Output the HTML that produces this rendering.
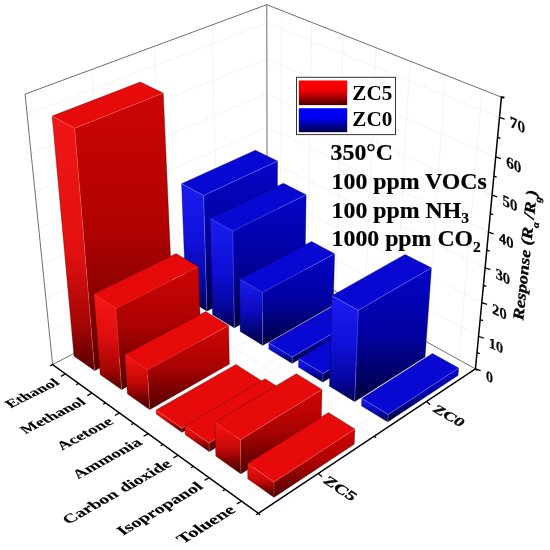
<!DOCTYPE html>
<html><head><meta charset="utf-8"><title>Response chart</title>
<style>
html,body{margin:0;padding:0;background:#fff;}
body{width:550px;height:550px;overflow:hidden;}
svg{display:block;}
text{font-family:"Liberation Serif","DejaVu Serif",serif;font-weight:bold;fill:#000;}
.lb{stroke:#000;stroke-width:0.3px;}
.lc{stroke:#000;stroke-width:0.12px;}
.it{font-style:italic;}
</style></head><body>
<svg width="550" height="550" viewBox="0 0 550 550">
<defs>
<linearGradient id="rn" x1="0" y1="0" x2="0" y2="1"><stop offset="0" stop-color="#fa1212"/><stop offset="0.5" stop-color="#c60808"/><stop offset="1" stop-color="#3c0000"/></linearGradient>
<linearGradient id="rw" x1="0" y1="0" x2="0" y2="1"><stop offset="0" stop-color="#d00404"/><stop offset="0.5" stop-color="#a80202"/><stop offset="1" stop-color="#500000"/></linearGradient>
<linearGradient id="bn" x1="0" y1="0" x2="0" y2="1"><stop offset="0" stop-color="#1c1cf0"/><stop offset="0.5" stop-color="#0a0abc"/><stop offset="1" stop-color="#00003c"/></linearGradient>
<linearGradient id="bw" x1="0" y1="0" x2="0" y2="1"><stop offset="0" stop-color="#0404c8"/><stop offset="0.5" stop-color="#0202a0"/><stop offset="1" stop-color="#000040"/></linearGradient>
<linearGradient id="rnt" x1="0" y1="0" x2="0" y2="1"><stop offset="0" stop-color="#f21616"/><stop offset="0.55" stop-color="#e01010"/><stop offset="0.82" stop-color="#a40505"/><stop offset="1" stop-color="#560000"/></linearGradient>
<linearGradient id="rwt" x1="0" y1="0" x2="0" y2="1"><stop offset="0" stop-color="#cc0404"/><stop offset="0.5" stop-color="#b00202"/><stop offset="1" stop-color="#5e0000"/></linearGradient>
<linearGradient id="rnm" x1="0" y1="0" x2="0" y2="1"><stop offset="0" stop-color="#f81616"/><stop offset="0.45" stop-color="#de0e0e"/><stop offset="0.8" stop-color="#a40404"/><stop offset="1" stop-color="#4e0000"/></linearGradient>
<linearGradient id="bnm" x1="0" y1="0" x2="0" y2="1"><stop offset="0" stop-color="#1c1cf0"/><stop offset="0.45" stop-color="#1010da"/><stop offset="0.8" stop-color="#0606a0"/><stop offset="1" stop-color="#00004c"/></linearGradient>
<linearGradient id="lr" x1="0" y1="0" x2="0" y2="1"><stop offset="0" stop-color="#ff0000"/><stop offset="0.42" stop-color="#ee0000"/><stop offset="1" stop-color="#480000"/></linearGradient>
<linearGradient id="lb" x1="0" y1="0" x2="0" y2="1"><stop offset="0" stop-color="#0000ff"/><stop offset="0.42" stop-color="#0000ee"/><stop offset="1" stop-color="#000044"/></linearGradient>
</defs>
<rect width="550" height="550" fill="#fff"/>

<g fill="none" stroke="#f3f3f3" stroke-width="1">
<polyline points="49.29,332.03 267.15,223.4 478.57,336.24"/>
<polyline points="45.88,298.52 267.1,192.28 481.78,302.59"/>
<polyline points="42.36,263.97 267.05,160.29 485.1,267.87"/>
<polyline points="38.74,228.33 267.0,127.41 488.52,232.05"/>
<polyline points="34.99,191.53 266.94,93.59 492.06,195.06"/>
<polyline points="31.13,153.53 266.89,58.8 495.71,156.86"/>
<polyline points="27.13,114.26 266.83,23.0 499.48,117.37"/>
<line x1="111.17" y1="334.28" x2="91.73" y2="69.47"/>
<line x1="166.26" y1="305.83" x2="153.95" y2="46.45"/>
<line x1="218.19" y1="279.02" x2="212.19" y2="24.91"/>
<line x1="280.44" y1="261.03" x2="281.51" y2="10.5"/>
<line x1="307.6" y1="276.05" x2="311.77" y2="22.42"/>
<line x1="335.71" y1="291.6" x2="343.22" y2="34.8"/>
<line x1="364.82" y1="307.7" x2="375.92" y2="47.69"/>
<line x1="394.99" y1="324.39" x2="409.95" y2="61.09"/>
<line x1="426.28" y1="341.69" x2="445.4" y2="75.06"/>
<line x1="458.75" y1="359.65" x2="482.35" y2="89.61"/>
<line x1="111.17" y1="334.28" x2="318.34" y2="473.44"/>
<line x1="166.26" y1="305.83" x2="374.26" y2="436.23"/>
<line x1="218.19" y1="279.02" x2="426.51" y2="401.45"/>
<line x1="65.47" y1="373.84" x2="280.44" y2="261.03"/>
<line x1="91.97" y1="393.01" x2="307.6" y2="276.05"/>
<line x1="119.52" y1="412.93" x2="335.71" y2="291.6"/>
<line x1="148.19" y1="433.67" x2="364.82" y2="307.7"/>
<line x1="178.04" y1="455.26" x2="394.99" y2="324.39"/>
<line x1="209.15" y1="477.76" x2="426.28" y2="341.69"/>
<line x1="241.61" y1="501.23" x2="458.75" y2="359.65"/>
</g>
<g fill="none" stroke="#555" stroke-width="0.85">
<polyline points="52.59,364.53 25.08,94.13 266.8,4.7 501.42,97.12"/>
<polyline points="52.59,364.53 267.2,253.71 475.45,368.89"/>
<line x1="267.2" y1="253.71" x2="266.8" y2="4.7"/>
</g>
<polygon points="181.58,183.63 203.57,195.45 206.93,311.16 185.98,298.3" fill="url(#bnm)"/>
<polygon points="203.57,195.45 277.51,161.08 277.19,273.83 206.93,311.16" fill="url(#bw)"/>
<polygon points="181.58,183.63 255.39,150.23 277.51,161.08 203.57,195.45" fill="#0808d2"/>
<polyline points="185.98,298.3 181.58,183.63 255.39,150.23 277.51,161.08 277.19,273.83" fill="none" stroke="#000030" stroke-width="0.6" stroke-opacity="0.55" stroke-linejoin="round"/>
<polyline points="185.98,298.3 206.93,311.16 277.19,273.83" fill="none" stroke="#000030" stroke-width="0.5" stroke-opacity="0.35"/>
<polyline points="181.58,183.63 203.57,195.45 277.51,161.08" fill="none" stroke="#7f90ff" stroke-width="0.6" stroke-opacity="0.65" stroke-linejoin="round"/>
<line x1="203.57" y1="195.45" x2="206.93" y2="311.16" stroke="#7f90ff" stroke-width="0.6" stroke-opacity="0.65"/>
<polygon points="52.09,116.07 74.66,128.24 94.65,370.82 74.04,356.27" fill="url(#rnt)"/>
<polygon points="74.66,128.24 163.23,93.02 173.73,328.8 94.65,370.82" fill="url(#rwt)"/>
<polygon points="52.09,116.07 140.3,81.96 163.23,93.02 74.66,128.24" fill="#e60a0a"/>
<polyline points="74.04,356.27 52.09,116.07 140.3,81.96 163.23,93.02 173.73,328.8" fill="none" stroke="#300000" stroke-width="0.6" stroke-opacity="0.55" stroke-linejoin="round"/>
<polyline points="74.04,356.27 94.65,370.82 173.73,328.8" fill="none" stroke="#300000" stroke-width="0.5" stroke-opacity="0.35"/>
<polyline points="52.09,116.07 74.66,128.24 163.23,93.02" fill="none" stroke="#ff8a7a" stroke-width="0.6" stroke-opacity="0.5" stroke-linejoin="round"/>
<line x1="74.66" y1="128.24" x2="94.65" y2="370.82" stroke="#ff8a7a" stroke-width="0.6" stroke-opacity="0.5"/>
<polygon points="210.05,218.49 232.7,230.96 234.32,327.96 212.6,314.64" fill="url(#bnm)"/>
<polygon points="232.7,230.96 306.14,194.75 304.69,289.3 234.32,327.96" fill="url(#bw)"/>
<polygon points="210.05,218.49 283.39,183.31 306.14,194.75 232.7,230.96" fill="#0808d2"/>
<polyline points="212.6,314.64 210.05,218.49 283.39,183.31 306.14,194.75 304.69,289.3" fill="none" stroke="#000030" stroke-width="0.6" stroke-opacity="0.55" stroke-linejoin="round"/>
<polyline points="212.6,314.64 234.32,327.96 304.69,289.3" fill="none" stroke="#000030" stroke-width="0.5" stroke-opacity="0.35"/>
<polyline points="210.05,218.49 232.7,230.96 306.14,194.75" fill="none" stroke="#7f90ff" stroke-width="0.6" stroke-opacity="0.65" stroke-linejoin="round"/>
<line x1="232.7" y1="230.96" x2="234.32" y2="327.96" stroke="#7f90ff" stroke-width="0.6" stroke-opacity="0.65"/>
<polygon points="93.77,293.87 115.89,308.28 121.64,389.87 100.23,374.76" fill="url(#rnm)"/>
<polygon points="115.89,308.28 198.45,266.69 201.02,346.25 121.64,389.87" fill="url(#rw)"/>
<polygon points="93.77,293.87 176.06,253.54 198.45,266.69 115.89,308.28" fill="#e60a0a"/>
<polyline points="100.23,374.76 93.77,293.87 176.06,253.54 198.45,266.69 201.02,346.25" fill="none" stroke="#300000" stroke-width="0.6" stroke-opacity="0.55" stroke-linejoin="round"/>
<polyline points="100.23,374.76 121.64,389.87 201.02,346.25" fill="none" stroke="#300000" stroke-width="0.5" stroke-opacity="0.35"/>
<polyline points="93.77,293.87 115.89,308.28 198.45,266.69" fill="none" stroke="#ff8a7a" stroke-width="0.6" stroke-opacity="0.5" stroke-linejoin="round"/>
<line x1="115.89" y1="308.28" x2="121.64" y2="389.87" stroke="#ff8a7a" stroke-width="0.6" stroke-opacity="0.5"/>
<polygon points="239.46,279.08 262.52,292.45 262.72,345.39 240.2,331.57" fill="url(#bn)"/>
<polygon points="262.52,292.45 334.64,253.67 333.18,305.31 262.72,345.39" fill="url(#bw)"/>
<polygon points="239.46,279.08 311.51,241.41 334.64,253.67 262.52,292.45" fill="#0808d2"/>
<polyline points="240.2,331.57 239.46,279.08 311.51,241.41 334.64,253.67 333.18,305.31" fill="none" stroke="#000030" stroke-width="0.6" stroke-opacity="0.55" stroke-linejoin="round"/>
<polyline points="240.2,331.57 262.72,345.39 333.18,305.31" fill="none" stroke="#000030" stroke-width="0.5" stroke-opacity="0.35"/>
<polyline points="239.46,279.08 262.52,292.45 334.64,253.67" fill="none" stroke="#7f90ff" stroke-width="0.6" stroke-opacity="0.65" stroke-linejoin="round"/>
<line x1="262.52" y1="292.45" x2="262.72" y2="345.39" stroke="#7f90ff" stroke-width="0.6" stroke-opacity="0.65"/>
<polygon points="124.76,354.52 147.4,369.9 149.69,409.67 127.44,393.96" fill="url(#rn)"/>
<polygon points="147.4,369.9 228.6,325.55 229.35,364.37 149.69,409.67" fill="url(#rw)"/>
<polygon points="124.76,354.52 205.74,311.51 228.6,325.55 147.4,369.9" fill="#e60a0a"/>
<polyline points="127.44,393.96 124.76,354.52 205.74,311.51 228.6,325.55 229.35,364.37" fill="none" stroke="#300000" stroke-width="0.6" stroke-opacity="0.55" stroke-linejoin="round"/>
<polyline points="127.44,393.96 149.69,409.67 229.35,364.37" fill="none" stroke="#300000" stroke-width="0.5" stroke-opacity="0.35"/>
<polyline points="124.76,354.52 147.4,369.9 228.6,325.55" fill="none" stroke="#ff8a7a" stroke-width="0.6" stroke-opacity="0.5" stroke-linejoin="round"/>
<line x1="147.4" y1="369.9" x2="149.69" y2="409.67" stroke="#ff8a7a" stroke-width="0.6" stroke-opacity="0.5"/>
<polygon points="268.82,342.75 292.26,357.04 292.2,363.47 268.82,349.13" fill="url(#bn)"/>
<polygon points="292.26,357.04 362.95,315.64 362.69,321.91 292.2,363.47" fill="url(#bw)"/>
<polygon points="268.82,342.75 339.48,302.53 362.95,315.64 292.26,357.04" fill="#0808d2"/>
<polyline points="268.82,349.13 268.82,342.75 339.48,302.53 362.95,315.64 362.69,321.91" fill="none" stroke="#000030" stroke-width="0.6" stroke-opacity="0.55" stroke-linejoin="round"/>
<polyline points="268.82,349.13 292.2,363.47 362.69,321.91" fill="none" stroke="#000030" stroke-width="0.5" stroke-opacity="0.35"/>
<polyline points="268.82,342.75 292.26,357.04 362.95,315.64" fill="none" stroke="#7f90ff" stroke-width="0.6" stroke-opacity="0.65" stroke-linejoin="round"/>
<line x1="292.26" y1="357.04" x2="292.2" y2="363.47" stroke="#7f90ff" stroke-width="0.6" stroke-opacity="0.65"/>
<polygon points="156.07,410.06 181.83,428.17 182.01,432.49 156.3,414.34" fill="url(#rn)"/>
<polygon points="181.83,428.17 261.91,380.97 261.93,385.19 182.01,432.49" fill="url(#rw)"/>
<polygon points="156.07,410.06 235.95,364.45 261.91,380.97 181.83,428.17" fill="#e60a0a"/>
<polyline points="156.3,414.34 156.07,410.06 235.95,364.45 261.91,380.97 261.93,385.19" fill="none" stroke="#300000" stroke-width="0.6" stroke-opacity="0.55" stroke-linejoin="round"/>
<polyline points="156.3,414.34 182.01,432.49 261.93,385.19" fill="none" stroke="#300000" stroke-width="0.5" stroke-opacity="0.35"/>
<polyline points="156.07,410.06 181.83,428.17 261.91,380.97" fill="none" stroke="#ff8a7a" stroke-width="0.6" stroke-opacity="0.5" stroke-linejoin="round"/>
<line x1="181.83" y1="428.17" x2="182.01" y2="432.49" stroke="#ff8a7a" stroke-width="0.6" stroke-opacity="0.5"/>
<polygon points="298.64,358.65 323.03,373.48 322.81,382.25 298.53,367.35" fill="url(#bn)"/>
<polygon points="323.03,373.48 393.78,330.55 393.29,339.12 322.81,382.25" fill="url(#bw)"/>
<polygon points="298.64,358.65 369.41,316.98 393.78,330.55 323.03,373.48" fill="#0808d2"/>
<polyline points="298.53,367.35 298.64,358.65 369.41,316.98 393.78,330.55 393.29,339.12" fill="none" stroke="#000030" stroke-width="0.6" stroke-opacity="0.55" stroke-linejoin="round"/>
<polyline points="298.53,367.35 322.81,382.25 393.29,339.12" fill="none" stroke="#000030" stroke-width="0.5" stroke-opacity="0.35"/>
<polyline points="298.64,358.65 323.03,373.48 393.78,330.55" fill="none" stroke="#7f90ff" stroke-width="0.6" stroke-opacity="0.65" stroke-linejoin="round"/>
<line x1="323.03" y1="373.48" x2="322.81" y2="382.25" stroke="#7f90ff" stroke-width="0.6" stroke-opacity="0.65"/>
<polygon points="184.8,426.04 209.01,442.99 209.27,451.73 185.16,434.71" fill="url(#rn)"/>
<polygon points="209.01,442.99 289.43,394.19 289.35,402.73 209.27,451.73" fill="url(#rw)"/>
<polygon points="184.8,426.04 265.07,378.75 289.43,394.19 209.01,442.99" fill="#e60a0a"/>
<polyline points="185.16,434.71 184.8,426.04 265.07,378.75 289.43,394.19 289.35,402.73" fill="none" stroke="#300000" stroke-width="0.6" stroke-opacity="0.55" stroke-linejoin="round"/>
<polyline points="185.16,434.71 209.27,451.73 289.35,402.73" fill="none" stroke="#300000" stroke-width="0.5" stroke-opacity="0.35"/>
<polyline points="184.8,426.04 209.01,442.99 289.43,394.19" fill="none" stroke="#ff8a7a" stroke-width="0.6" stroke-opacity="0.5" stroke-linejoin="round"/>
<line x1="209.01" y1="442.99" x2="209.27" y2="451.73" stroke="#ff8a7a" stroke-width="0.6" stroke-opacity="0.5"/>
<polygon points="331.89,295.65 358.26,310.34 354.63,401.77 329.39,386.29" fill="url(#bnm)"/>
<polygon points="358.26,310.34 431.43,267.85 425.05,356.98 354.63,401.77" fill="url(#bw)"/>
<polygon points="331.89,295.65 405.12,254.47 431.43,267.85 358.26,310.34" fill="#0808d2"/>
<polyline points="329.39,386.29 331.89,295.65 405.12,254.47 431.43,267.85 425.05,356.98" fill="none" stroke="#000030" stroke-width="0.6" stroke-opacity="0.55" stroke-linejoin="round"/>
<polyline points="329.39,386.29 354.63,401.77 425.05,356.98" fill="none" stroke="#000030" stroke-width="0.5" stroke-opacity="0.35"/>
<polyline points="331.89,295.65 358.26,310.34 431.43,267.85" fill="none" stroke="#7f90ff" stroke-width="0.6" stroke-opacity="0.65" stroke-linejoin="round"/>
<line x1="358.26" y1="310.34" x2="354.63" y2="401.77" stroke="#7f90ff" stroke-width="0.6" stroke-opacity="0.65"/>
<polygon points="214.9,422.25 240.43,439.72 240.94,474.09 215.81,456.35" fill="url(#rn)"/>
<polygon points="240.43,439.72 321.96,389.49 321.16,423.06 240.94,474.09" fill="url(#rw)"/>
<polygon points="214.9,422.25 296.32,373.64 321.96,389.49 240.43,439.72" fill="#e60a0a"/>
<polyline points="215.81,456.35 214.9,422.25 296.32,373.64 321.96,389.49 321.16,423.06" fill="none" stroke="#300000" stroke-width="0.6" stroke-opacity="0.55" stroke-linejoin="round"/>
<polyline points="215.81,456.35 240.94,474.09 321.16,423.06" fill="none" stroke="#300000" stroke-width="0.5" stroke-opacity="0.35"/>
<polyline points="214.9,422.25 240.43,439.72 321.96,389.49" fill="none" stroke="#ff8a7a" stroke-width="0.6" stroke-opacity="0.5" stroke-linejoin="round"/>
<line x1="240.43" y1="439.72" x2="240.94" y2="474.09" stroke="#ff8a7a" stroke-width="0.6" stroke-opacity="0.5"/>
<polygon points="361.8,398.4 388.15,414.45 387.72,422.07 361.47,405.97" fill="url(#bn)"/>
<polygon points="388.15,414.45 458.67,368.07 458.02,375.52 387.72,422.07" fill="url(#bw)"/>
<polygon points="361.8,398.4 432.42,353.43 458.67,368.07 388.15,414.45" fill="#0808d2"/>
<polyline points="361.47,405.97 361.8,398.4 432.42,353.43 458.67,368.07 458.02,375.52" fill="none" stroke="#000030" stroke-width="0.6" stroke-opacity="0.55" stroke-linejoin="round"/>
<polyline points="361.47,405.97 387.72,422.07 458.02,375.52" fill="none" stroke="#000030" stroke-width="0.5" stroke-opacity="0.35"/>
<polyline points="361.8,398.4 388.15,414.45 458.67,368.07" fill="none" stroke="#7f90ff" stroke-width="0.6" stroke-opacity="0.65" stroke-linejoin="round"/>
<line x1="388.15" y1="414.45" x2="387.72" y2="422.07" stroke="#7f90ff" stroke-width="0.6" stroke-opacity="0.65"/>
<polygon points="247.58,463.54 273.99,481.93 273.97,497.4 247.76,478.9" fill="url(#rn)"/>
<polygon points="273.99,481.93 354.87,429.1 354.26,444.23 273.97,497.4" fill="url(#rw)"/>
<polygon points="247.58,463.54 328.41,412.43 354.87,429.1 273.99,481.93" fill="#e60a0a"/>
<polyline points="247.76,478.9 247.58,463.54 328.41,412.43 354.87,429.1 354.26,444.23" fill="none" stroke="#300000" stroke-width="0.6" stroke-opacity="0.55" stroke-linejoin="round"/>
<polyline points="247.76,478.9 273.97,497.4 354.26,444.23" fill="none" stroke="#300000" stroke-width="0.5" stroke-opacity="0.35"/>
<polyline points="247.58,463.54 273.99,481.93 354.87,429.1" fill="none" stroke="#ff8a7a" stroke-width="0.6" stroke-opacity="0.5" stroke-linejoin="round"/>
<line x1="273.99" y1="481.93" x2="273.97" y2="497.4" stroke="#ff8a7a" stroke-width="0.6" stroke-opacity="0.5"/>
<g fill="none" stroke="#000" stroke-width="1.5" stroke-linecap="square">
<polyline points="52.59,364.53 258.36,513.35 475.45,368.89 501.42,97.12"/>
</g>
<g fill="none" stroke="#000" stroke-width="1.3">
<line x1="65.47" y1="373.84" x2="60.87" y2="376.44"/>
<line x1="91.97" y1="393.01" x2="87.37" y2="395.61"/>
<line x1="119.52" y1="412.93" x2="114.92" y2="415.53000000000003"/>
<line x1="148.19" y1="433.67" x2="143.59" y2="436.27000000000004"/>
<line x1="178.04" y1="455.26" x2="173.44" y2="457.86"/>
<line x1="209.15" y1="477.76" x2="204.55" y2="480.36"/>
<line x1="241.61" y1="501.23" x2="237.01000000000002" y2="503.83000000000004"/>
<line x1="52.59" y1="364.53" x2="50.190000000000005" y2="365.92999999999995"/>
<line x1="78.59" y1="383.33" x2="76.19" y2="384.72999999999996"/>
<line x1="105.61" y1="402.87" x2="103.21" y2="404.27"/>
<line x1="133.71" y1="423.2" x2="131.31" y2="424.59999999999997"/>
<line x1="162.96" y1="444.35" x2="160.56" y2="445.75"/>
<line x1="193.43" y1="466.39" x2="191.03" y2="467.78999999999996"/>
<line x1="225.21" y1="489.37" x2="222.81" y2="490.77"/>
<line x1="258.36" y1="513.35" x2="255.96" y2="514.75"/>
<line x1="318.34" y1="473.44" x2="321.94" y2="476.64"/>
<line x1="374.26" y1="436.23" x2="376.06" y2="437.83000000000004"/>
<line x1="426.51" y1="401.45" x2="430.11" y2="404.65"/>
<line x1="258.36" y1="513.35" x2="260.16" y2="514.95"/>
<line x1="475.45" y1="368.89" x2="477.25" y2="370.49"/>
<line x1="475.45" y1="368.89" x2="480.65" y2="370.69"/>
<line x1="476.99" y1="352.69" x2="479.85" y2="353.68"/>
<line x1="478.57" y1="336.24" x2="483.77" y2="338.04"/>
<line x1="480.16" y1="319.54" x2="483.02000000000004" y2="320.53000000000003"/>
<line x1="481.78" y1="302.59" x2="486.97999999999996" y2="304.39"/>
<line x1="483.43" y1="285.37" x2="486.29" y2="286.36"/>
<line x1="485.1" y1="267.87" x2="490.3" y2="269.67"/>
<line x1="486.8" y1="250.1" x2="489.66" y2="251.09"/>
<line x1="488.52" y1="232.05" x2="493.71999999999997" y2="233.85000000000002"/>
<line x1="490.27" y1="213.71" x2="493.13" y2="214.70000000000002"/>
<line x1="492.06" y1="195.06" x2="497.26" y2="196.86"/>
<line x1="493.87" y1="176.12" x2="496.73" y2="177.11"/>
<line x1="495.71" y1="156.86" x2="500.90999999999997" y2="158.66000000000003"/>
<line x1="497.58" y1="137.28" x2="500.44" y2="138.27"/>
<line x1="499.48" y1="117.37" x2="504.68" y2="119.17"/>
<line x1="501.42" y1="97.12" x2="504.28000000000003" y2="98.11"/>
<line x1="501.42" y1="97.12" x2="504.42" y2="97.12"/>
</g>
<text class="lc" font-size="13.908" text-anchor="end" transform="matrix(1.0567 -0.5197 0.7697 0.6385 60.47 383.84)">Ethanol</text>
<text class="lc" font-size="14.2424" text-anchor="end" transform="matrix(1.0495 -0.5343 0.7696 0.6386 86.97 403.01)">Methanol</text>
<text class="lc" font-size="14.5768" text-anchor="end" transform="matrix(1.0417 -0.5492 0.7697 0.6384 114.52 422.93)">Acetone</text>
<text class="lc" font-size="14.911200000000001" text-anchor="end" transform="matrix(1.0331 -0.5652 0.7697 0.6384 143.19 443.67)">Ammonia</text>
<text class="lc" font-size="15.245600000000001" text-anchor="end" transform="matrix(1.0240 -0.5817 0.7695 0.6386 173.04 465.26)" word-spacing="1">Carbon dioxide</text>
<text class="lc" font-size="15.579999999999998" text-anchor="end" transform="matrix(1.0139 -0.5990 0.7696 0.6385 204.15 487.76)">Isopropanol</text>
<text class="lc" font-size="15.914400000000002" text-anchor="end" transform="matrix(1.0029 -0.6172 0.7699 0.6382 236.61 511.23)">Toluene</text>
<text class="it lb" font-size="13.76" text-anchor="start" transform="matrix(1.2062 0.8104 -0.5577 0.8301 322.94 482.34)">ZC5</text>
<text class="it lb" font-size="12.8" text-anchor="start" transform="matrix(1.2528 0.7363 -0.5067 0.8621 432.41 410.95)">ZC0</text>
<text class="it lb" font-size="16.0" text-anchor="start" transform="matrix(0.8610 0.4015 0.1564 0.9877 486.75 380.49)">0</text>
<text class="it lb" font-size="16.228571428571428" text-anchor="start" transform="matrix(0.8610 0.4015 0.1564 0.9877 489.87 347.55)">10</text>
<text class="it lb" font-size="16.457142857142856" text-anchor="start" transform="matrix(0.8610 0.4015 0.1564 0.9877 493.08 313.62)">20</text>
<text class="it lb" font-size="16.685714285714287" text-anchor="start" transform="matrix(0.8610 0.4015 0.1564 0.9877 496.40 278.61)">30</text>
<text class="it lb" font-size="16.914285714285715" text-anchor="start" transform="matrix(0.8610 0.4015 0.1564 0.9877 499.82 242.51)">40</text>
<text class="it lb" font-size="17.142857142857142" text-anchor="start" transform="matrix(0.8610 0.4015 0.1564 0.9877 503.36 205.23)">50</text>
<text class="it lb" font-size="17.37142857142857" text-anchor="start" transform="matrix(0.8610 0.4015 0.1564 0.9877 507.01 166.75)">60</text>
<text class="it lb" font-size="17.6" text-anchor="start" transform="matrix(0.8610 0.4015 0.1564 0.9877 510.78 126.97)">70</text>
<text class="it lb" font-size="15.5" text-anchor="start" transform="matrix(0.1227 -1.1678 0.9945 0.1045 523.20 320.60)">Response (R<tspan font-size="9.6" dy="5.5">a </tspan><tspan dy="-5.5">/R</tspan><tspan font-size="9.6" dy="5.5">g</tspan><tspan dy="-5.5">)</tspan></text>
<rect x="296.5" y="77.3" width="99" height="57.3" fill="#fff" stroke="#333" stroke-width="1"/>
<rect x="298.8" y="80.5" width="48.4" height="24.6" fill="url(#lr)"/>
<rect x="298.8" y="108.2" width="48.4" height="24" fill="url(#lb)"/>
<text font-size="21.8" transform="translate(352.3 100.2) scale(0.97 1)">ZC5</text>
<text font-size="21.8" transform="translate(352.3 126.0) scale(0.97 1)">ZC0</text>
<g font-size="23.8" stroke="#000" stroke-width="0.2">
<text x="330.6" y="159.9">350°C</text>
<text x="331.6" y="188.7">100 ppm VOCs</text>
<text x="331.6" y="217.6">100 ppm NH<tspan font-size="15.5" dy="5.5">3</tspan></text>
<text x="331.6" y="246.3">1000 ppm CO<tspan font-size="15.5" dy="5.5">2</tspan></text>
</g>
</svg></body></html>
